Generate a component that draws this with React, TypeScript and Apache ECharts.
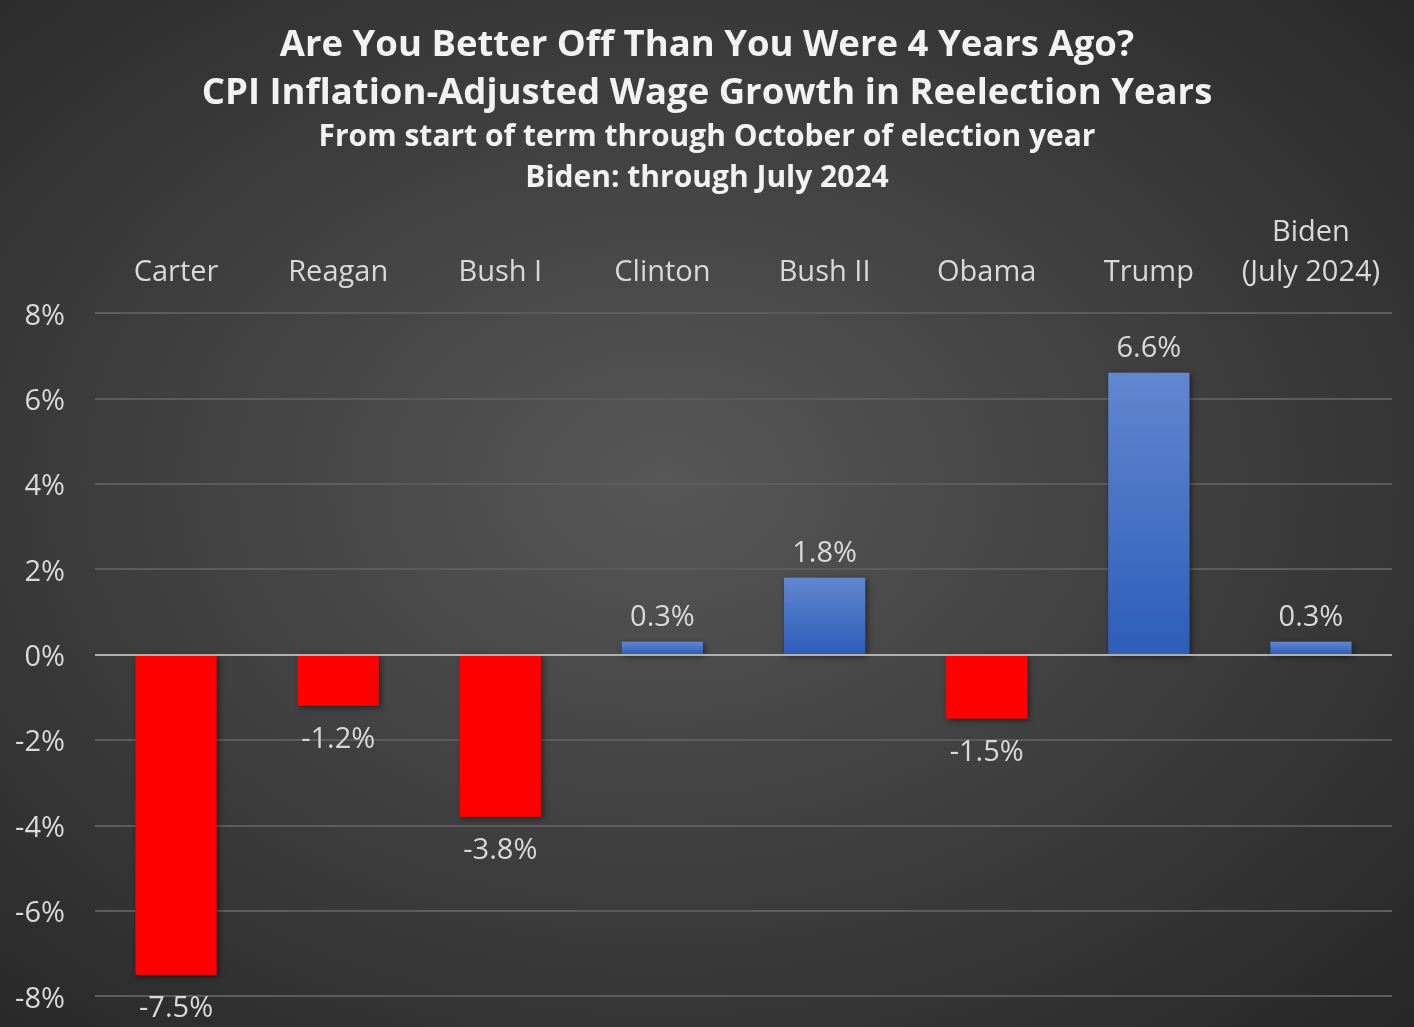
import { useEffect, useRef } from 'react';
import * as echarts from 'echarts';

const presidents = ['Carter', 'Reagan', 'Bush I', 'Clinton', 'Bush II', 'Obama', 'Trump', 'Biden\n(July 2024)'];
const wageGrowth = [-7.5, -1.2, -3.8, 0.3, 1.8, -1.5, 6.6, 0.3];
const yTicks = { min: -8, max: 8, interval: 2 };

const titleLines = ['Are You Better Off Than You Were 4 Years Ago?', 'CPI Inflation-Adjusted Wage Growth in Reelection Years'];
const subLines = ['From start of term through October of election year', 'Biden: through July 2024'];

const FONT = '"Open Sans", "Noto Sans", sans-serif';
const LABEL = '#d9d9d9';

const blue = new echarts.graphic.LinearGradient(0, 0, 0, 1, [
    { offset: 0, color: '#6287d0' },
    { offset: 1, color: '#2c5eb9' }
]);

export default function App() {
    const ref = useRef<HTMLDivElement | null>(null);

    useEffect(() => {
        if (!ref.current) return;
        const chart = echarts.init(ref.current, null, { renderer: 'svg' });
        const shadow = { shadowColor: 'rgba(0,0,0,0.6)', shadowBlur: 3, shadowOffsetX: 2, shadowOffsetY: 2 };

        // title block, one text per line so every line is centred
        const heading = [
            { text: titleLines[0], y: 42, size: 36.5 },
            { text: titleLines[1], y: 90, size: 36.5 },
            { text: subLines[0], y: 134, size: 30 },
            { text: subLines[1], y: 175, size: 30 }
        ].map(h => ({
            type: 'text',
            x: 707,
            y: h.y,
            style: {
                text: h.text,
                fill: '#f2f2f2',
                font: `bold ${h.size}px ${FONT}`,
                align: 'center',
                verticalAlign: 'middle',
                ...shadow
            }
        }));

        chart.setOption({
            animation: false,
            backgroundColor: {
                type: 'radial', x: 0.47, y: 0.47, r: 0.75,
                colorStops: [{ offset: 0, color: '#575757' }, { offset: 1, color: '#262626' }]
            },
            graphic: heading,
            grid: { left: 95, right: 22, top: 313, bottom: 31, containLabel: false },
            xAxis: {
                type: 'category',
                position: 'top',
                data: presidents,
                axisLine: { show: false, onZero: false },
                axisTick: { show: false },
                splitLine: { show: false },
                axisLabel: { color: LABEL, fontFamily: FONT, fontSize: 29, lineHeight: 40, margin: 24, interval: 0 }
            },
            yAxis: {
                type: 'value',
                min: yTicks.min,
                max: yTicks.max,
                interval: yTicks.interval,
                axisLine: { show: false },
                axisTick: { show: false },
                axisLabel: { color: LABEL, fontFamily: FONT, fontSize: 29, margin: 30, formatter: '{value}%' },
                splitLine: { lineStyle: { color: '#5c5c5c', width: 2 } }
            },
            series: [{
                type: 'bar',
                barWidth: '50%',
                data: wageGrowth.map(v => ({
                    value: v,
                    itemStyle: { color: v < 0 ? '#ff0000' : blue },
                    label: { position: v < 0 ? 'bottom' : 'top', distance: v < 0 ? 16 : 13 }
                })),
                itemStyle: { shadowColor: 'rgba(0,0,0,0.5)', shadowBlur: 6, shadowOffsetX: 2, shadowOffsetY: 2 },
                label: {
                    show: true,
                    color: LABEL,
                    fontFamily: FONT,
                    fontSize: 29,
                    formatter: (p: any) => p.value.toFixed(1) + '%'
                },
                markLine: {
                    silent: true,
                    symbol: 'none',
                    label: { show: false },
                    lineStyle: { color: '#b0b0b0', width: 2, type: 'solid' },
                    data: [{ yAxis: 0 }]
                }
            }]
        });

        return () => chart.dispose();
    }, []);

    return <div ref={ref} style={{ position: 'fixed', left: 0, top: 0, width: 1414, height: 1027 }} />;
}
